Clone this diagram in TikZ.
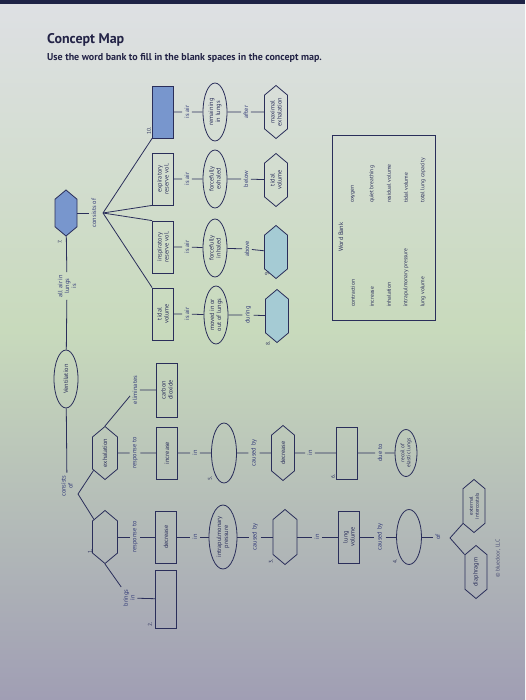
\documentclass[tikz,border=0pt]{standalone}
\usepackage{fontspec}
\setmainfont{PT Sans}
\usetikzlibrary{shapes.geometric,shapes.symbols,calc}
\definecolor{ink}{RGB}{42,46,90}
\definecolor{lblc}{RGB}{50,58,120}
\definecolor{titlec}{RGB}{35,35,70}
\definecolor{fillA}{RGB}{120,150,205}
\definecolor{fillB}{RGB}{165,203,212}
\definecolor{bgtop}{RGB}{222,224,228}
\definecolor{bgmid}{RGB}{200,218,188}
\definecolor{bgbot}{RGB}{160,158,180}
\definecolor{band}{RGB}{30,35,70}
\tikzset{
  base/.style={draw=ink, line width=0.8pt, text=ink, font=\fontsize{6.3}{6.9}\selectfont, align=center, rotate=90, inner sep=0pt},
  boxn/.style={base, rectangle, minimum width=52pt, minimum height=21pt},
  ell/.style={base, ellipse, minimum width=58pt, minimum height=24pt},
  hexa/.style={base, signal, signal to=east and west, signal pointer angle=100, minimum width=53pt, minimum height=23pt},
  lbl/.style={rotate=90, text=lblc, font=\fontsize{6.3}{6.9}\selectfont, align=center, inner sep=2.5pt},
  num/.style={rotate=90, text=ink, font=\fontsize{5.5}{6}\selectfont, inner sep=0pt},
  wb/.style={rotate=90, anchor=west, text=ink, font=\fontsize{5.6}{6}\selectfont, inner sep=0pt},
  line/.style={draw=ink, line width=0.8pt}
}
\begin{document}
\begin{tikzpicture}[x=1pt,y=-1pt]
\useasboundingbox (0,0) rectangle (525,700);
\shade[top color=bgtop, bottom color=bgmid] (0,0) rectangle (525,330);
\shade[top color=bgmid, bottom color=bgbot] (0,330) rectangle (525,700);
\fill[band] (0,0) rectangle (525,4);
% title
\node[anchor=base west, inner sep=0pt, text=titlec, font=\fontsize{14}{16}\selectfont\bfseries] (title) at (47,44) {Concept Map};
\node[anchor=base west, inner sep=0pt, text=titlec, font=\fontsize{10}{12}\selectfont\bfseries] (sub) at (47,61) {Use the word bank to fill in the blank spaces in the concept map.};
% trunk
\node[ell, minimum width=58pt, minimum height=24pt] (vent) at (66,379) {Ventilation};
\node[lbl] (allair) at (67,286) {all air in\\lungs\\is};
\node[hexa, fill=fillA, minimum width=46pt, minimum height=22pt] (h7) at (66,213) {};
\node[num] (n7) at (60,242) {7.};
\draw[line] (vent) -- (allair) -- (h7);
\node[lbl] (cons7) at (94,213) {consists of};
\coordinate (v7) at (103,213);
\draw[line] (h7) -- (cons7);
% right panel rows
\node[boxn, fill=fillA] (b10) at (163,112) {};
\node[num] (n10) at (149,131) {10.};
\node[boxn] (bexp) at (163,179) {expiratory\\reserve vol.};
\node[boxn] (binsp) at (163,247) {inspiratory\\reserve vol.};
\node[boxn] (btid) at (163,314) {tidal\\volume};
\draw[line] (v7) -- (b10.north west);
\draw[line] (v7) -- (bexp.north west);
\draw[line] (v7) -- (binsp.north east);
\draw[line] (v7) -- (btid.north east);
\node[lbl] (ia1) at (187,112) {is air};
\node[lbl] (ia2) at (187,179) {is air};
\node[lbl] (ia3) at (187,247) {is air};
\node[lbl] (ia4) at (187,314) {is air};
\node[ell] (e1) at (215,112) {remaining\\in lungs};
\node[ell] (e2) at (215,179) {forcefully\\exhaled};
\node[ell] (e3) at (215,248) {forcefully\\inhaled};
\node[ell] (e4r) at (216,315) {moved in or\\out of lungs};
\node[lbl] (af) at (246,112) {after};
\node[lbl] (bel) at (246,179) {below};
\node[lbl] (abv) at (247,249) {above};
\node[lbl] (dur) at (248,315) {during};
\node[hexa] (hme) at (276,112) {maximal\\exhalation};
\node[hexa] (htv) at (276,180) {tidal\\volume};
\node[hexa, fill=fillB] (h9) at (276,252) {};
\node[hexa, fill=fillB] (h8) at (277,316) {};
\node[num] (n9) at (267,273) {9.};
\node[num] (n8) at (268,343) {8.};
\draw[line] (b10) -- (ia1) -- (e1) -- (af) -- (hme);
\draw[line] (bexp) -- (ia2) -- (e2) -- (bel) -- (htv);
\draw[line] (binsp) -- (ia3) -- (e3) -- (abv) -- (h9);
\draw[line] (btid) -- (ia4) -- (e4r) -- (dur) -- (h8);
% word bank
\node[draw=ink, line width=0.9pt, minimum width=103pt, minimum height=185pt, inner sep=0pt] (wbank) at (383.5,227.5) {};
\node[rotate=90, text=ink, font=\fontsize{6.3}{7}\selectfont, inner sep=0pt] (wbt) at (341,237) {Word Bank};
\node[wb] (w1) at (353,307) {contraction};
\node[wb] (w2) at (372,307) {increase};
\node[wb] (w3) at (389,307) {inhalation};
\node[wb] (w4) at (406,307) {intrapulmonary pressure};
\node[wb] (w5) at (423,307) {lung volume};
\node[wb] (w6) at (353,203) {oxygen};
\node[wb] (w7) at (372,203) {quiet breathing};
\node[wb] (w8) at (389,203) {residual volume};
\node[wb] (w9) at (406,203) {tidal volume};
\node[wb] (w10) at (423,203) {total lung capacity};
% lower trunk
\node[lbl] (cons2) at (67,486) {consists\\of};
\draw[line] (vent) -- (cons2);
\coordinate (v2) at (78,494);
\node[hexa, minimum width=53pt, minimum height=25pt] (exh) at (105,453) {exhalation};
\node[hexa, minimum width=53pt, minimum height=25pt] (h1) at (105,537) {};
\node[num] (n1) at (90,551) {1.};
\draw[line] (v2) -- (exh);
\draw[line] (v2) -- (h1);
% exhalation row
\node[lbl] (elim) at (135,390) {eliminates};
\node[boxn, minimum width=54pt] (co2) at (167,390) {carbon\\dioxide};
\draw[line] (exh.east) -- (elim) -- (co2);
\node[lbl] (resp1) at (135,453) {response to};
\node[boxn] (inc) at (167,453) {increase};
\node[lbl] (in1) at (195,453) {in};
\node[ell, minimum width=60pt, minimum height=25pt] (e5) at (224,453) {};
\node[num] (n5) at (210,478) {5.};
\node[lbl] (cb1) at (254,453) {caused by};
\node[hexa, minimum width=55pt] (hdec) at (283,453) {decrease};
\node[lbl] (in2) at (310,453) {in};
\node[boxn] (b6) at (347,453) {};
\node[num] (n6) at (333,476) {6.};
\node[lbl] (due) at (380,453) {due to};
\node[ell, minimum width=47pt, minimum height=22pt, font=\fontsize{5.3}{6}\selectfont] (erec) at (406,453) {recoil of\\elastic lungs};
\draw[line] (exh) -- (resp1) -- (inc) -- (in1) -- (e5) -- (cb1) -- (hdec) -- (in2) -- (b6) -- (due) -- (erec);
% inhalation row
\node[lbl] (resp2) at (135,537) {response to};
\node[boxn] (dec) at (166,537) {decrease};
\node[lbl] (in3) at (195,537) {in};
\node[ell, minimum width=64pt, minimum height=28pt] (eip) at (223,537) {intrapulmonary\\pressure};
\node[lbl] (cb2) at (255,537) {caused by};
\node[hexa, minimum width=55pt, minimum height=24pt] (h3) at (285,537) {};
\node[num] (n3) at (271,561) {3.};
\node[lbl] (in4) at (317,537) {in};
\node[boxn] (blv) at (349,537) {lung\\volume};
\node[lbl] (cb3) at (380,537) {caused by};
\node[ell, minimum width=55pt, minimum height=25pt] (e4) at (409,537) {};
\node[num] (n4) at (395,561) {4.};
\node[lbl] (of) at (438,537) {of};
\coordinate (v4) at (450,538);
\draw[line] (h1) -- (resp2) -- (dec) -- (in3) -- (eip) -- (cb2) -- (h3) -- (in4) -- (blv) -- (cb3) -- (e4) -- (of);
\node[hexa, minimum width=53pt, minimum height=22pt, font=\fontsize{5.3}{5.9}\selectfont] (hext) at (474,506) {external\\intercostals};
\node[hexa, minimum width=53pt, minimum height=22pt] (hdia) at (476,572) {diaphragm};
\draw[line] (v4) -- (hext.north west);
\draw[line] (v4) -- (hdia.north east);
% brings in
\node[lbl] (brings) at (129,598) {brings\\in};
\node[boxn, minimum width=58pt] (b2) at (166,599) {};
\node[num] (n2) at (150,624) {2.};
\draw[line] (h1.west) -- (brings) -- (b2);
\node[rotate=90, anchor=west, inner sep=0pt, text=ink!85, font=\fontsize{5.6}{6}\selectfont] (copy) at (498,578) {© bluedoor, LLC};
\end{tikzpicture}
\end{document}
